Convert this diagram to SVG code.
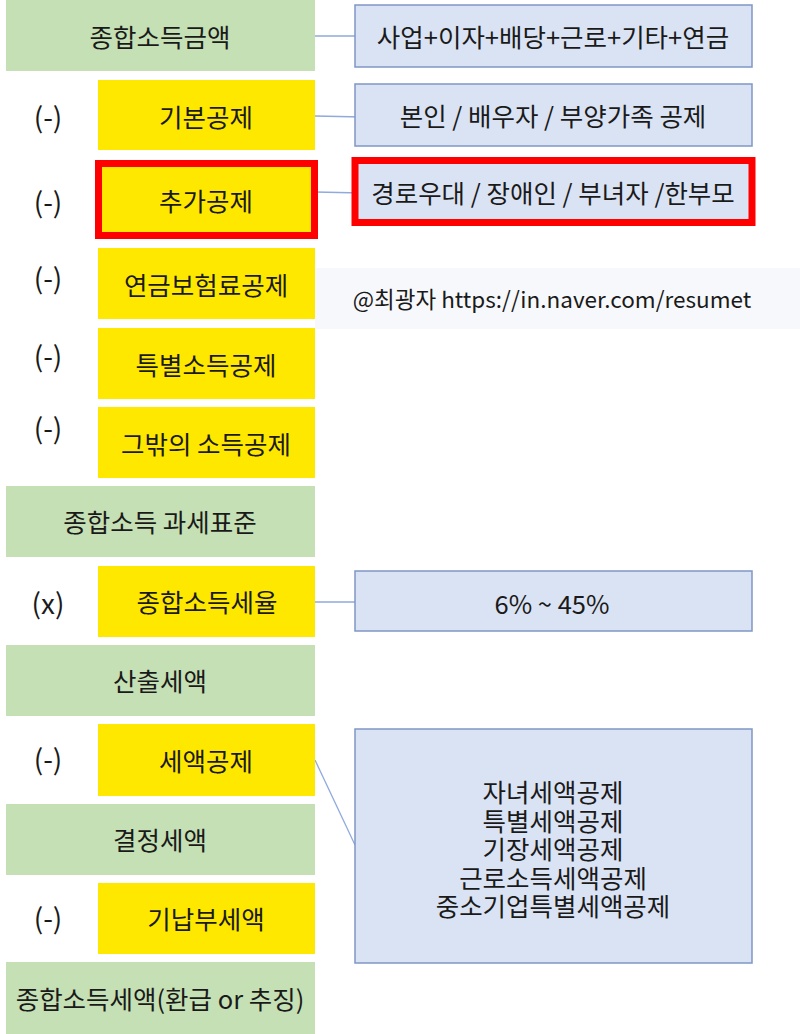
<svg xmlns="http://www.w3.org/2000/svg" width="800" height="1034" viewBox="0 0 800 1034">
<style>
text{font-family:"Noto Sans CJK KR","Noto Sans",sans-serif;fill:#1a1a1a;text-anchor:middle;dominant-baseline:central;font-size:25.5px}
.g{fill:#c5e0b4}
.y{fill:#ffe800}
.b{fill:#dae3f3;stroke:#7f96c6;stroke-width:1.5}
.op{font-size:28px}
.c{stroke:#8faadc;stroke-width:1.3;fill:none}
.red{fill:none;stroke:#ff0000;stroke-width:7}
</style>
<rect x="0" y="0" width="800" height="1034" fill="#ffffff"/>
<rect x="315" y="268" width="485" height="61" fill="#f7f8fc"/>
<text x="552" y="298" style="font-size:22.5px">@최광자 https://in.naver.com/resumet</text>
<g id="connectors">
<line class="c" x1="315" y1="36" x2="355" y2="36"/>
<line class="c" x1="315" y1="116" x2="362" y2="117"/>
<line class="c" x1="315" y1="192" x2="362" y2="193"/>
<line class="c" x1="315" y1="602" x2="355" y2="602"/>
<line class="c" x1="315" y1="760" x2="355" y2="845"/>
</g>
<g id="n-total"><rect class="g" x="6" y="0" width="309" height="71"/><text x="160" y="35">종합소득금액</text></g>
<g id="n-basic"><text class="op" x="48" y="116">(-)</text><rect class="y" x="98" y="80" width="217" height="70"/><text x="206" y="115">기본공제</text></g>
<g id="n-extra"><text class="op" x="48" y="201">(-)</text><rect class="y" x="98" y="163" width="217" height="72"/><rect class="red" x="98.5" y="163.5" width="216" height="72"/><text x="206" y="199">추가공제</text></g>
<g id="n-pension"><text class="op" x="48" y="277">(-)</text><rect class="y" x="98" y="248" width="217" height="71"/><text x="206" y="283">연금보험료공제</text></g>
<g id="n-special"><text class="op" x="48" y="355">(-)</text><rect class="y" x="98" y="328" width="217" height="71"/><text x="206" y="363">특별소득공제</text></g>
<g id="n-other"><text class="op" x="48" y="427">(-)</text><rect class="y" x="98" y="407" width="217" height="71"/><text x="206" y="442">그밖의 소득공제</text></g>
<g id="n-base"><rect class="g" x="6" y="486" width="309" height="71"/><text x="160" y="520">종합소득 과세표준</text></g>
<g id="n-rate"><text class="op" x="48" y="602">(x)</text><rect class="y" x="98" y="566" width="217" height="71"/><text x="207" y="600">종합소득세율</text></g>
<g id="n-calc"><rect class="g" x="6" y="645" width="309" height="71"/><text x="160" y="679">산출세액</text></g>
<g id="n-credit"><text class="op" x="48" y="758">(-)</text><rect class="y" x="98" y="724" width="217" height="72"/><text x="206" y="759">세액공제</text></g>
<g id="n-decided"><rect class="g" x="6" y="804" width="309" height="71"/><text x="160" y="838">결정세액</text></g>
<g id="n-prepaid"><text class="op" x="48" y="917">(-)</text><rect class="y" x="98" y="883" width="217" height="71"/><text x="206" y="917">기납부세액</text></g>
<g id="n-final"><rect class="g" x="6" y="962" width="309" height="72"/><text x="160" y="997">종합소득세액(환급 or 추징)</text></g>
<g id="n-sources"><rect class="b" x="355" y="5" width="397" height="62"/><text x="553" y="35">사업+이자+배당+근로+기타+연금</text></g>
<g id="n-basic-desc"><rect class="b" x="355" y="84" width="397" height="62"/><text x="553" y="114">본인 / 배우자 / 부양가족 공제</text></g>
<g id="n-extra-desc"><rect class="b" x="355" y="160.5" width="397" height="62" style="stroke:none"/><rect class="red" x="355" y="160.5" width="397" height="62"/><text x="553" y="191">경로우대 / 장애인 / 부녀자 /한부모</text></g>
<g id="n-rate-desc"><rect class="b" x="355" y="571" width="397" height="60"/><text x="552" y="602">6% ~ 45%</text></g>
<g id="n-credit-desc"><rect class="b" x="355" y="729" width="397" height="234"/>
<text x="553" y="790"><tspan x="553" y="790">자녀세액공제</tspan><tspan x="553" y="818.5">특별세액공제</tspan><tspan x="553" y="847">기장세액공제</tspan><tspan x="553" y="875.5">근로소득세액공제</tspan><tspan x="553" y="904">중소기업특별세액공제</tspan></text>
</g>
</svg>
